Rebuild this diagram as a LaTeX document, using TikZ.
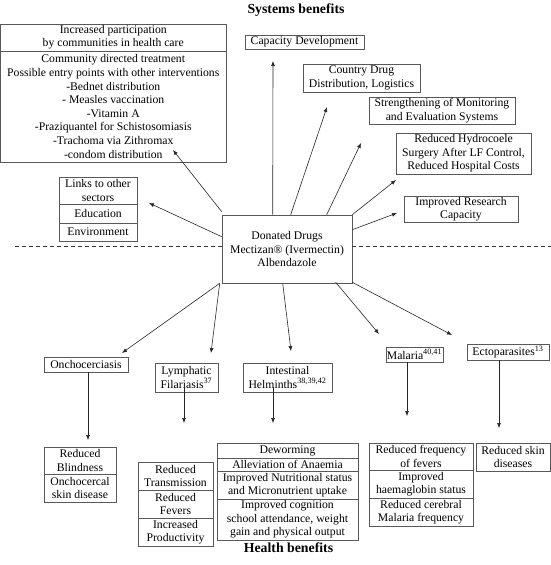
\documentclass[tikz,border=0pt]{standalone}
\usepackage{fontspec}
\setmainfont{Liberation Serif}
\usetikzlibrary{arrows.meta}
\tikzset{
  bx/.style={draw=black!65, line width=0.6pt, inner sep=0pt, align=center,
    font=\fontsize{11.7}{13.4}\selectfont},
  arr/.style={draw=black!85, line width=0.6pt, -{Latex[length=5pt,width=4pt]}},
  ttl/.style={font=\fontsize{13.8}{15}\selectfont\bfseries}
}
\begin{document}
\begin{tikzpicture}[x=1pt,y=-1pt]
\useasboundingbox (0,0) rectangle (551,565);
% titles
\node[ttl] (systitle) at (296,10) {Systems benefits};
\node[ttl] (healthtitle) at (288.5,548) {Health benefits};
% central
\node[bx, minimum width=130, minimum height=68] (cen) at (287,249) {Donated Drugs\\Mectizan® (Ivermectin)\\Albendazole};
% dashed line
\coordinate (dl) at (15,246);
\coordinate (dr) at (551,246);
\draw[black!80, line width=0.8pt, dash pattern=on 4pt off 3pt] (dl) -- (dl -| cen.west);
\draw[black!80, line width=0.8pt, dash pattern=on 4pt off 3pt] (dr -| cen.east) -- (dr);
% top-left
\node[bx, minimum width=225.5, minimum height=27] (comA) at (113.25,37.5) {Increased participation\\by communities in health care};
\node[bx, minimum width=225.5, minimum height=111, font=\fontsize{11.7}{13.6}\selectfont] (comB) at (113.25,106.5) {Community directed treatment\\Possible entry points with other interventions\\-Bednet distribution\\- Measles vaccination\\-Vitamin A\\-Praziquantel for Schistosomiasis\\-Trachoma via Zithromax\\-condom distribution};
% links
\node[bx, minimum width=78, minimum height=27] (linkA) at (98,190.5) {Links to other\\sectors};
\node[bx, minimum width=78, minimum height=19] (linkB) at (98,213.5) {Education};
\node[bx, minimum width=78, minimum height=18] (linkC) at (98,232) {Environment};
% systems boxes
\node[bx, minimum width=119, minimum height=14] (cap) at (304.5,42) {Capacity Development};
\node[bx, minimum width=117, minimum height=28] (ctry) at (361.5,78) {Country Drug\\Distribution, Logistics};
\node[bx, minimum width=146, minimum height=27] (mon) at (442,110.5) {Strengthening of Monitoring\\and Evaluation Systems};
\node[bx, minimum width=135, minimum height=41] (hyd) at (463.5,153.5) {Reduced Hydrocoele\\Surgery After LF Control,\\Reduced Hospital Costs};
\node[bx, minimum width=114, minimum height=26] (res) at (461,209) {Improved Research\\Capacity};
% top arrows
\coordinate (tCom) at (173,150);
\coordinate (tLink) at (149,203);
\coordinate (tCap) at (273,61);
\coordinate (tCtry) at (327,107);
\coordinate (tMon) at (361,143);
\coordinate (tHyd) at (396,180);
\coordinate (tRes) at (397,213);
\draw[arr] ([yshift=3pt]cen.north west) -- (tCom);
\draw[arr] ([yshift=-22pt]cen.north west) -- (tLink);
\draw[arr] ([xshift=51pt]cen.north west) -- (tCap);
\draw[arr] ([xshift=69pt]cen.north west) -- (tCtry);
\draw[arr] ([xshift=105pt]cen.north west) -- (tMon);
\draw[arr] (cen.north east) -- (tHyd);
\draw[arr] ([yshift=-15pt]cen.north east) -- (tRes);
% disease boxes
\node[bx, minimum width=84, minimum height=15] (onch) at (86,364.5) {Onchocerciasis};
\node[bx, minimum width=63, minimum height=29] (lymph) at (186.5,377.5) {Lymphatic\\Filariasis\textsuperscript{37}};
\node[bx, minimum width=89, minimum height=29] (helm) at (287.5,377.5) {Intestinal\\Helminths\textsuperscript{38,39,42}};
\node[bx, minimum width=57, minimum height=15] (mal) at (414.5,354.5) {Malaria\textsuperscript{40,41}};
\node[bx, minimum width=82, minimum height=16] (ecto) at (508,352) {Ectoparasites\textsuperscript{13}};
% bottom arrows from central
\coordinate (tOnch) at (122,353);
\coordinate (tLymph) at (211,353);
\coordinate (tHelm) at (291,351);
\coordinate (tMal) at (379,334);
\coordinate (tEcto) at (452,335);
\draw[arr] ([xshift=-2pt]cen.south west) -- (tOnch);
\draw[arr] ([xshift=-2pt]cen.south west) -- (tLymph);
\draw[arr] ([xshift=61pt]cen.south west) -- (tHelm);
\draw[arr] ([xshift=114pt,yshift=1pt]cen.south west) -- (tMal);
\draw[arr] ([yshift=1pt]cen.south east) -- (tEcto);
% outcome boxes
\node[bx, minimum width=72, minimum height=27] (blA) at (80,460.5) {Reduced\\Blindness};
\node[bx, minimum width=72, minimum height=28] (blB) at (80,488) {Onchocercal\\skin disease};
\node[bx, minimum width=75, minimum height=28] (trA) at (175.5,476) {Reduced\\Transmission};
\node[bx, minimum width=75, minimum height=28] (trB) at (175.5,504) {Reduced\\Fevers};
\node[bx, minimum width=75, minimum height=28] (trC) at (175.5,532) {Increased\\Productivity};
\node[bx, minimum width=141, minimum height=15] (dwA) at (287.5,450.5) {Deworming};
\node[bx, minimum width=141, minimum height=13] (dwB) at (287.5,464.5) {Alleviation of Anaemia};
\node[bx, minimum width=141, minimum height=28] (dwC) at (287.5,485) {Improved Nutritional status\\and Micronutrient uptake};
\node[bx, minimum width=141, minimum height=41] (dwD) at (287.5,519.5) {Improved cognition\\school attendance, weight\\gain and physical output};
\node[bx, minimum width=104, minimum height=27] (mfA) at (421,456.5) {Reduced frequency\\of fevers};
\node[bx, minimum width=104, minimum height=28] (mfB) at (421,484) {Improved\\haemaglobin status};
\node[bx, minimum width=104, minimum height=28] (mfC) at (421,512) {Reduced cerebral\\Malaria frequency};
\node[bx, minimum width=74, minimum height=28] (skin) at (513,457) {Reduced skin\\diseases};
% vertical arrows
\coordinate (vOnch) at (88,440);
\coordinate (vLymph) at (184,423);
\coordinate (vHelm) at (273,423);
\coordinate (vMal) at (407,416);
\coordinate (vEcto) at (499,428);
\draw[arr] (onch.south -| vOnch) -- (vOnch);
\draw[arr] ([yshift=5pt]lymph.south -| vLymph) -- (vLymph);
\draw[arr] ([yshift=5pt]helm.south -| vHelm) -- (vHelm);
\draw[arr] (mal.south -| vMal) -- (vMal);
\draw[arr] (ecto.south -| vEcto) -- (vEcto);
\end{tikzpicture}
\end{document}
